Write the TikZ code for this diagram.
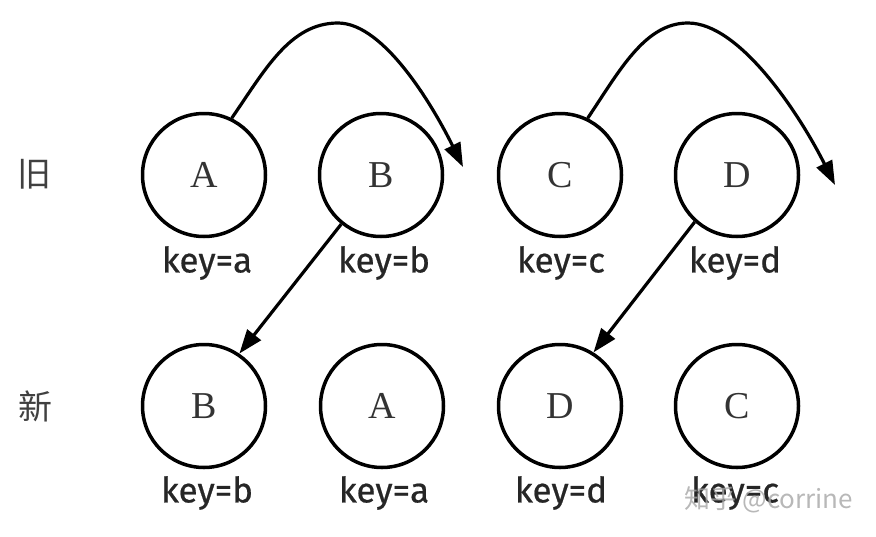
\documentclass[tikz,border=0pt]{standalone}
\usepackage{fontspec}
\setmainfont{Liberation Serif}
\newfontfamily\keyfont[FakeBold=0.6]{Fira Sans}
\newfontfamily\cjkfont{Noto Sans CJK SC}
\usetikzlibrary{arrows.meta}
\begin{document}
\begin{tikzpicture}[x=1pt,y=-1pt,
  ball/.style={circle,draw=black,line width=3.5pt,minimum size=123pt,inner sep=0pt,
    font=\fontsize{38}{40}\selectfont,text=black!80},
  keylbl/.style={font=\keyfont\fontsize{35}{38}\selectfont,text=black!85},
  rowlbl/.style={font=\cjkfont\fontsize{34}{38}\selectfont,text=black!75},
  mv/.style={line width=3.2pt,-{Triangle[length=24pt,width=17pt]}}]
\useasboundingbox (0,0) rectangle (876,536);
% row labels
\node[rowlbl] (old) at (34,174) {旧};
\node[rowlbl] (new) at (35,406) {新};
% old row
\node[ball] (oA) at (204,175) {A};
\node[ball] (oB) at (381,175) {B};
\node[ball] (oC) at (560,175) {C};
\node[ball] (oD) at (737,175) {D};
% new row
\node[ball] (nB) at (204,406) {B};
\node[ball] (nA) at (382,406) {A};
\node[ball] (nD) at (560,406) {D};
\node[ball] (nC) at (737,406) {C};
% key labels
\node[keylbl] (koA) at (207,263) {key=a};
\node[keylbl] (koB) at (384,263) {key=b};
\node[keylbl] (koC) at (561,263) {key=c};
\node[keylbl] (koD) at (735,263) {key=d};
\node[keylbl] (knB) at (207,493) {key=b};
\node[keylbl] (knA) at (384,493) {key=a};
\node[keylbl] (knD) at (561,493) {key=d};
\node[keylbl] (knC) at (735,493) {key=c};
% arc targets
\coordinate (t1) at (463,167);
\coordinate (t2) at (835,185);
\coordinate (p1) at (338,23);
\coordinate (p2) at (688,23);
% moves
\draw[mv] (oA.64) .. controls (265,70) and (290,23) .. (p1)
  .. controls (385,23) and (435,110) .. (t1);
\draw[mv] (oC.64) .. controls (620,70) and (645,23) .. (p2)
  .. controls (740,23) and (800,115) .. (t2);
\draw[mv] (oB.-129) -- (nB.56);
\draw[mv] (oD.-132) -- (nD.58);
% watermark
\node[font=\cjkfont\fontsize{26}{30}\selectfont,text=black!35,opacity=0.8] (wm) at (769,500) {知乎 @corrine};
\end{tikzpicture}
\end{document}
